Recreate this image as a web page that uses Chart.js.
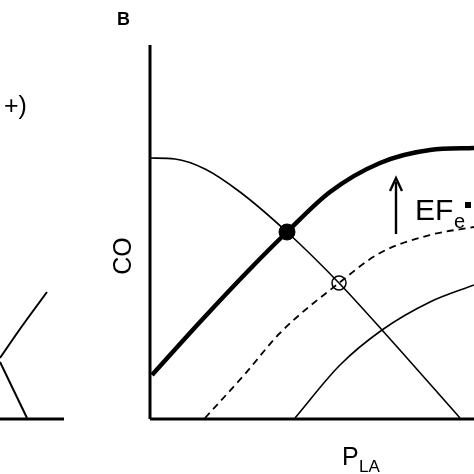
<!DOCTYPE html>
<html><head><meta charset="utf-8">
<script src="https://cdn.jsdelivr.net/npm/chart.js@4"></script>
<style>html,body{margin:0;padding:0;background:#fff}</style>
</head><body>
<canvas id="c" width="474" height="474"></canvas>
<script>
// data space: x 0..474, y 0..474 (y up)
const axisY = [{x:150,y:429},{x:150,y:55}];
const axisX = [{x:150,y:55},{x:474,y:55}];
const leftBase = [{x:0,y:55},{x:64,y:55}];
const leftRise = [{x:0,y:116},{x:20,y:145},{x:47,y:182}];
const leftFall = [{x:0,y:112},{x:27,y:56}];
const fallCurve = [{x:150,y:316},{x:175,y:315},{x:205,y:305},{x:240,y:282},{x:287,y:242},{x:339,y:191},{x:382,y:144},{x:460,y:56}];
const thickCurve = [{x:152,y:99},{x:200,y:152},{x:250,y:205},{x:287,y:242},{x:330,y:282},{x:380,y:311},{x:430,y:324},{x:474,y:326}];
const dashedCurve = [{x:205,y:56},{x:245,y:100},{x:280,y:141},{x:339,y:191},{x:380,y:221},{x:430,y:239},{x:474,y:247}];
const lowerCurve = [{x:295,y:56},{x:340,y:109},{x:382,y:144},{x:430,y:172},{x:474,y:189}];
const filledPt = [{x:287,y:242}];
const openPt = [{x:339,y:191}];

const line = (d,w,extra={}) => Object.assign({type:'line',data:d,borderColor:'#000',borderWidth:w,pointRadius:0,fill:false,cubicInterpolationMode:'monotone'},extra);

const textPlugin = {id:'txt',afterDraw(ch){
  const c=ch.ctx; c.save(); c.fillStyle='#000';
  c.font='bold 18px "Liberation Sans"'; c.fillText('B',117,25);
  c.font='25px "Liberation Sans"'; c.fillText('+)',4,114);
  c.save(); c.translate(131,256); c.rotate(-Math.PI/2); c.textAlign='center'; c.font='25px "Liberation Sans"'; c.fillText('CO',0,0); c.restore();
  c.font='25px "Liberation Sans"'; c.fillText('P',342,465); c.font='17px "Liberation Sans"'; c.fillText('LA',359,472);
  c.font='30px "Liberation Sans"'; c.fillText('EF',415,220); c.font='20px "Liberation Sans"'; c.fillText('e',454,228);
  c.fillRect(465,202,6,6);
  c.lineWidth=2.4; c.beginPath(); c.moveTo(396,234); c.lineTo(396,182); c.stroke();
  c.beginPath(); c.moveTo(390,191); c.lineTo(396,178); c.lineTo(402,191); c.stroke();
  c.restore();
}};

new Chart(document.getElementById('c'),{
  type:'scatter',
  data:{datasets:[
    line(axisY,3,{cubicInterpolationMode:'default'}),
    line(axisX,3,{cubicInterpolationMode:'default'}),
    line(leftBase,3,{cubicInterpolationMode:'default'}),
    line(leftRise,2),
    line(leftFall,2),
    line(fallCurve,1.6),
    line(lowerCurve,1.6),
    line(dashedCurve,1.8,{borderDash:[7,5]}),
    line(thickCurve,4.5),
    {type:'scatter',data:filledPt,pointRadius:8,backgroundColor:'#000',borderColor:'#000'},
    {type:'scatter',data:openPt,pointRadius:7,backgroundColor:'#fff',borderColor:'#000',borderWidth:1.5}
  ]},
  options:{responsive:false,animation:false,layout:{padding:0,autoPadding:false},
    plugins:{legend:{display:false},tooltip:{enabled:false}},
    scales:{x:{type:'linear',min:0,max:474,display:false},y:{type:'linear',min:0,max:474,display:false}}},
  plugins:[textPlugin]
});
</script>
</body></html>
